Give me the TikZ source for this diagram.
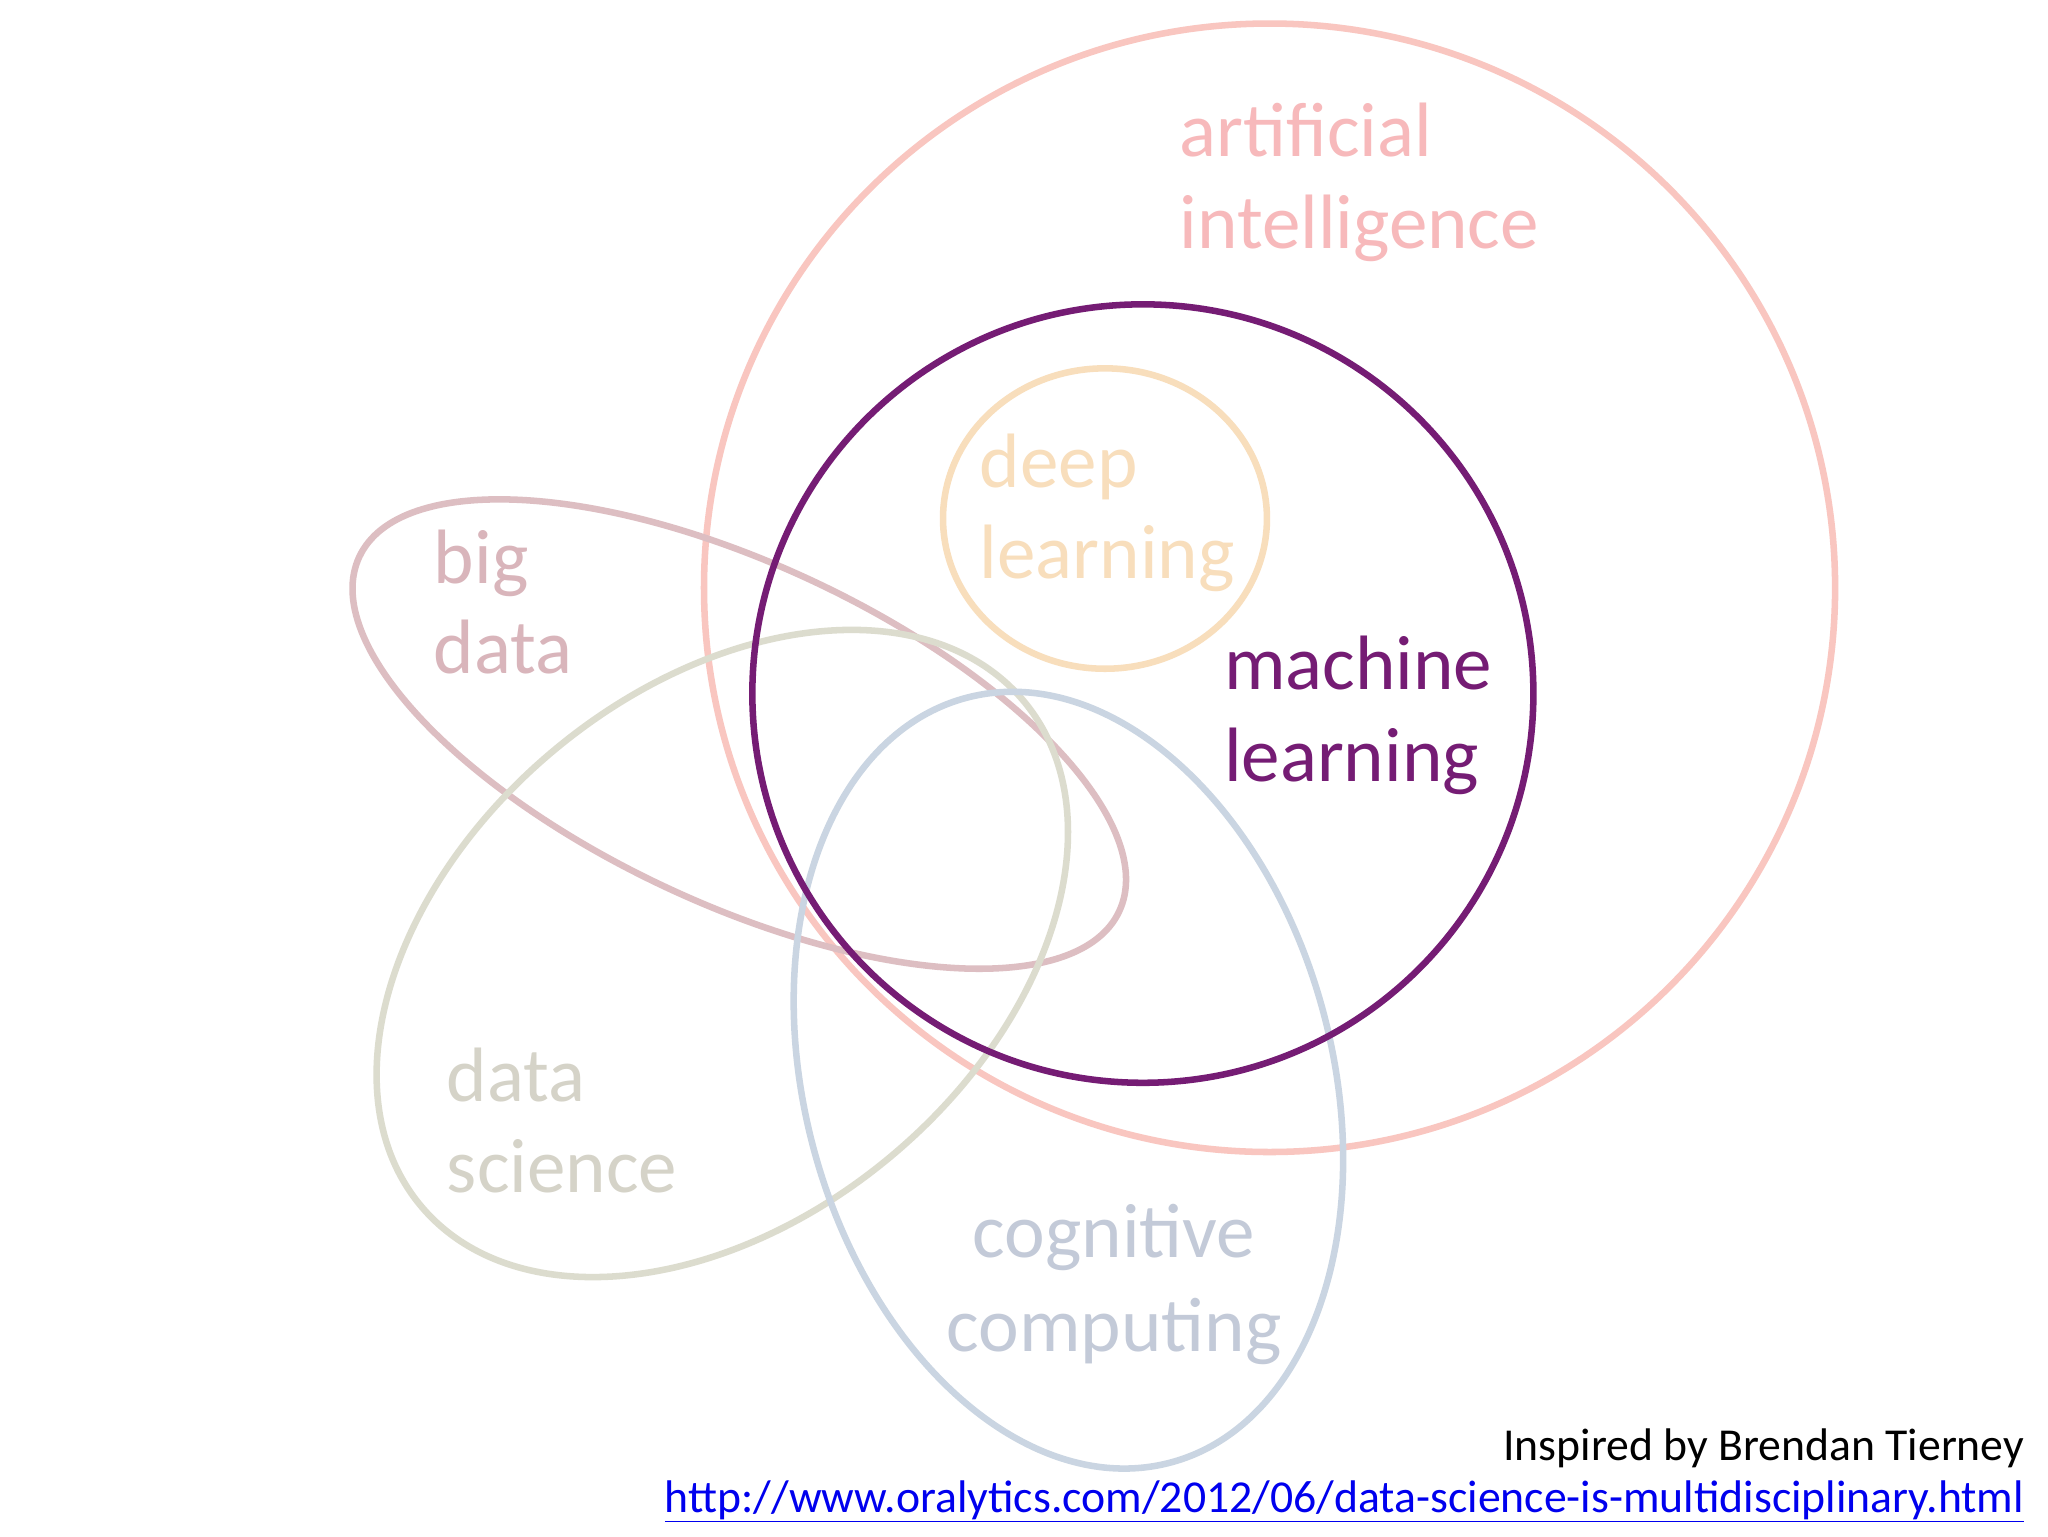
\documentclass[tikz,border=0pt]{standalone}
\usepackage{fontspec}
\setmainfont{Carlito}
\usepackage{xcolor}
\definecolor{aic}{HTML}{F9C6C0}
\definecolor{ait}{HTML}{F7B9BB}
\definecolor{mlc}{HTML}{751C74}
\definecolor{dlc}{HTML}{F8DEBC}
\definecolor{bdc}{HTML}{DDBEC2}
\definecolor{bdt}{HTML}{D9B5BB}
\definecolor{dsc}{HTML}{DCDCCE}
\definecolor{dst}{HTML}{D5D3C8}
\definecolor{ccc}{HTML}{CAD5E2}
\definecolor{cct}{HTML}{C3CAD8}
\definecolor{urlc}{HTML}{0000EE}
\begin{document}
\begin{tikzpicture}[x=1pt,y=-1pt,
  ring/.style={line width=5pt},
  lbl/.style={anchor=base west,inner sep=0pt,font=\fontsize{59}{70}\selectfont}]
\useasboundingbox (0,0) rectangle (1568,1176);
\fill[white] (0,0) rectangle (1568,1176);
\draw[ring,aic] (972,450) ellipse [x radius=433,y radius=432];
\draw[ring,bdc] (566,562) ellipse [x radius=321,y radius=130,rotate=-25];
\draw[ring,dsc] (553,730) ellipse [x radius=301,y radius=202,rotate=40];
\draw[ring,ccc] (818,827) ellipse [x radius=202,y radius=303,rotate=15];
\draw[ring,dlc] (846,397) ellipse [x radius=124,y radius=115];
\draw[ring,mlc] (875,531) ellipse [x radius=299,y radius=298];
\node[lbl,ait] (ai1) at (903,120) {artificial};
\node[lbl,ait] (ai2) at (903,190) {intelligence};
\node[lbl,dlc] (dl1) at (750,373) {deep};
\node[lbl,dlc] (dl2) at (750,443) {learning};
\node[lbl,mlc] (ml1) at (937,528) {machine};
\node[lbl,mlc] (ml2) at (937,598) {learning};
\node[lbl,bdt] (bd1) at (332,447) {big};
\node[lbl,bdt] (bd2) at (332,516) {data};
\node[lbl,dst] (ds1) at (342,843) {data};
\node[lbl,dst] (ds2) at (342,913) {science};
\node[lbl,cct,anchor=base] (cc1) at (853,963) {cognitive};
\node[lbl,cct,anchor=base] (cc2) at (853,1035) {computing};
\node[anchor=base east,inner sep=0pt,font=\fontsize{35}{40}\selectfont] (f1) at (1550,1118) {Inspired by Brendan Tierney};
\node[anchor=base east,inner sep=0pt,urlc,font=\fontsize{35}{40}\selectfont] (f2) at (1550,1158) {\underline{http://www.oralytics.com/2012/06/data-science-is-multidisciplinary.html}};
\end{tikzpicture}
\end{document}
